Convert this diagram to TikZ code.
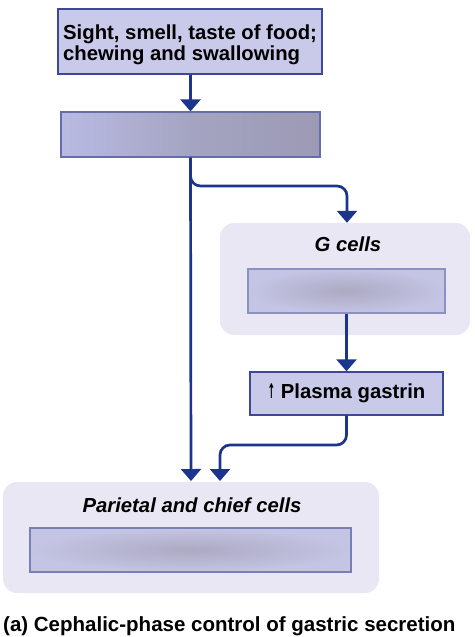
\documentclass[tikz,border=0pt]{standalone}
\usepackage{fontspec}
\setmainfont{Liberation Sans}
\newfontfamily\symfont{DejaVu Sans}
\usetikzlibrary{arrows.meta}
\definecolor{boxfill}{RGB}{201,202,234}
\definecolor{boxline}{RGB}{62,72,150}
\definecolor{arrowblue}{RGB}{28,52,142}
\definecolor{groupfill}{RGB}{233,231,244}
\definecolor{blurA}{RGB}{184,186,226}
\definecolor{blurB}{RGB}{164,164,194}
\definecolor{blurC}{RGB}{156,154,180}
\definecolor{blurD}{RGB}{196,196,228}
\definecolor{blurE}{RGB}{172,170,194}
\tikzset{
  lbl/.style={font=\fontsize{20.3}{21}\selectfont\bfseries, text=black, inner sep=0pt},
  ilbl/.style={font=\fontsize{20.3}{21}\selectfont\bfseries\itshape, text=black, inner sep=0pt},
  solidbox/.style={draw=boxline, line width=1.4pt, fill=boxfill, rectangle, inner sep=0pt},
  blurbox/.style={draw=boxline!80!white, line width=1.2pt, rectangle, inner sep=0pt},
  groupbox/.style={fill=groupfill, rounded corners=14pt, rectangle, inner sep=0pt},
  flow/.style={draw=arrowblue, line width=2.7pt, rounded corners=10pt,
    -{Triangle[width=20pt,length=12pt]}, arrowblue},
}
\begin{document}
\begin{tikzpicture}[x=1pt,y=-1pt]
\useasboundingbox (0,0) rectangle (474,637);
% groups
\node[groupbox, minimum width=250pt, minimum height=112pt] (ggroup) at (345,279) {};
\node[groupbox, minimum width=376pt, minimum height=111pt] (pgroup) at (191,537.5) {};
% top box
\node[solidbox, minimum width=264pt, minimum height=65pt] (sense) at (190,41.5) {};
\node[lbl, anchor=base west, align=left] (senseA) at (63,39) {Sight, smell, taste of food;};
\node[lbl, anchor=base west, align=left] (senseB) at (63,60) {chewing and swallowing};
% blurred box 2
\node[blurbox, minimum width=259pt, minimum height=45pt,
  left color=blurA, right color=blurC, middle color=blurB] (vagus) at (190.5,134.5) {};
% G cells
\node[ilbl] (gtitle) at (348,244) {G cells};
\node[blurbox, draw=boxline!60!white, minimum width=197pt, minimum height=44pt,
  inner color=blurE, outer color=blurD] (gblur) at (346.5,291) {};
% plasma gastrin
\node[solidbox, minimum width=193pt, minimum height=43pt] (gastrin) at (346.5,393.5)
  {\fontsize{20.3}{21}\selectfont\bfseries{\symfont\scalebox{0.45}[1]{↑}} Plasma gastrin};
% parietal
\node[ilbl] (ptitle) at (192,505) {Parietal and chief cells};
\node[blurbox, draw=boxline!70!white, minimum width=321pt, minimum height=44pt,
  inner color=blurE, outer color=blurD] (pblur) at (190.5,550) {};
% caption
\node[lbl, anchor=base west, font=\fontsize{20.5}{22}\selectfont\bfseries] (cap) at (3,631)
  {(a) Cephalic-phase control of gastric secretion};
% connectors
\coordinate (leftin) at (191,481);
\coordinate (rightin) at (220,481);
\draw[flow] (sense.south -| vagus.north) -- (vagus.north);
\draw[flow] (vagus.south) -- (leftin);
\draw[flow] (vagus.south) |- (347,186) -- (ggroup.north -| 347,0);
\draw[flow] (gblur.south) -- (gastrin.north);
\draw[flow] (gastrin.south) |- (220,445) -- (rightin);
\end{tikzpicture}
\end{document}
